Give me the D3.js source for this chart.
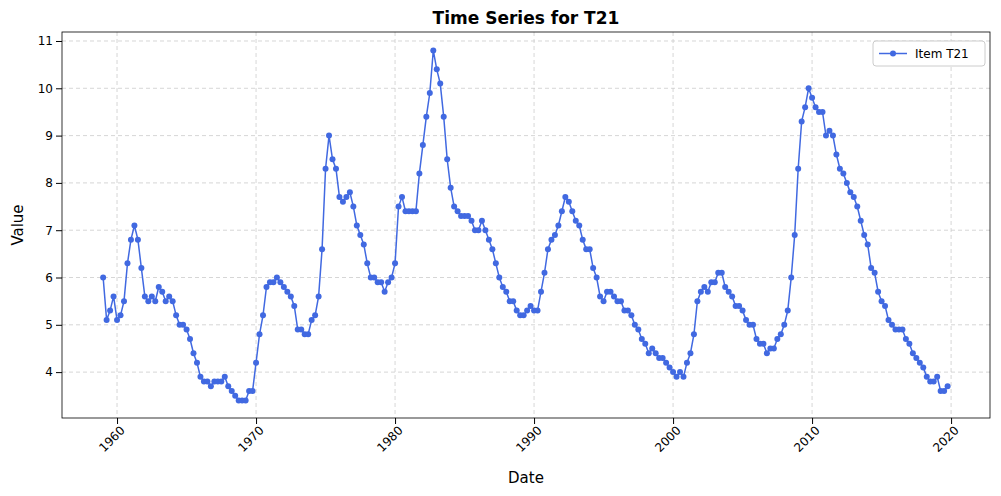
<!DOCTYPE html>
<html><head><meta charset="utf-8">
<script src="https://cdn.jsdelivr.net/npm/d3@7"></script>
<style>body{margin:0;background:#fff;font-family:"DejaVu Sans",sans-serif}</style>
</head><body><svg id="c" width="1001" height="496"></svg>
<script>
const startYear = 1959;
const values = [
6.0,5.1,5.3,5.6, 5.1,5.2,5.5,6.3, 6.8,7.1,6.8,6.2, 5.6,5.5,5.6,5.5, 5.8,5.7,5.5,5.6,
5.5,5.2,5.0,5.0, 4.9,4.7,4.4,4.2, 3.9,3.8,3.8,3.7, 3.8,3.8,3.8,3.9, 3.7,3.6,3.5,3.4,
3.4,3.4,3.6,3.6, 4.2,4.8,5.2,5.8, 5.9,5.9,6.0,5.9, 5.8,5.7,5.6,5.4, 4.9,4.9,4.8,4.8,
5.1,5.2,5.6,6.6, 8.3,9.0,8.5,8.3, 7.7,7.6,7.7,7.8, 7.5,7.1,6.9,6.7, 6.3,6.0,6.0,5.9,
5.9,5.7,5.9,6.0, 6.3,7.5,7.7,7.4, 7.4,7.4,7.4,8.2, 8.8,9.4,9.9,10.8, 10.4,10.1,9.4,8.5,
7.9,7.5,7.4,7.3, 7.3,7.3,7.2,7.0, 7.0,7.2,7.0,6.8, 6.6,6.3,6.0,5.8, 5.7,5.5,5.5,5.3,
5.2,5.2,5.3,5.4, 5.3,5.3,5.7,6.1, 6.6,6.8,6.9,7.1, 7.4,7.7,7.6,7.4, 7.2,7.1,6.8,6.6,
6.6,6.2,6.0,5.6, 5.5,5.7,5.7,5.6, 5.5,5.5,5.3,5.3, 5.2,5.0,4.9,4.7, 4.6,4.4,4.5,4.4,
4.3,4.3,4.2,4.1, 4.0,3.9,4.0,3.9, 4.2,4.4,4.8,5.5, 5.7,5.8,5.7,5.9, 5.9,6.1,6.1,5.8,
5.7,5.6,5.4,5.4, 5.3,5.1,5.0,5.0, 4.7,4.6,4.6,4.4, 4.5,4.5,4.7,4.8, 5.0,5.3,6.0,6.9,
8.3,9.3,9.6,10.0, 9.8,9.6,9.5,9.5, 9.0,9.1,9.0,8.6, 8.3,8.2,8.0,7.8, 7.7,7.5,7.2,6.9,
6.7,6.2,6.1,5.7, 5.5,5.4,5.1,5.0, 4.9,4.9,4.9,4.7, 4.6,4.4,4.3,4.2, 4.1,3.9,3.8,3.8,
3.9,3.6,3.6,3.7];
const xTicks = [1960,1970,1980,1990,2000,2010,2020];
const yTicks = [4,5,6,7,8,9,10,11];
const data = values.map((v,i)=>({t:startYear+i/4,v}));

const svg = d3.select("#c");
const L=62,R=990,T=32,B=418, col="#4169e1";
const x = d3.scaleLinear().domain([1956.04,2022.8]).range([L,R]);
const y = d3.scaleLinear().domain([3.03,11.19]).range([B,T]);

const g = svg.append("g");
g.selectAll(".gx").data(xTicks).join("line").attr("x1",d=>x(d)).attr("x2",d=>x(d)).attr("y1",T).attr("y2",B)
 .attr("stroke","#ccc").attr("stroke-dasharray","4,3").attr("stroke-width",0.8);
g.selectAll(".gy").data(yTicks).join("line").attr("y1",d=>y(d)).attr("y2",d=>y(d)).attr("x1",L).attr("x2",R)
 .attr("stroke","#ccc").attr("stroke-dasharray","4,3").attr("stroke-width",0.8);

const xa = svg.append("g").attr("transform",`translate(0,${B})`).call(d3.axisBottom(x).tickValues(xTicks).tickFormat(d3.format("d")).tickSizeOuter(0));
xa.selectAll("text").attr("transform","rotate(-45)").attr("text-anchor","end").attr("dx","-0.3em").attr("dy","0.5em");
const ya = svg.append("g").attr("transform",`translate(${L},0)`).call(d3.axisLeft(y).tickValues(yTicks).tickSizeOuter(0));
svg.selectAll(".tick text").attr("font-size",12).attr("font-family","DejaVu Sans").attr("fill","#000");
svg.selectAll(".domain").remove();
svg.append("rect").attr("x",L).attr("y",T).attr("width",R-L).attr("height",B-T).attr("fill","none").attr("stroke","#000").attr("stroke-width",0.8);

svg.append("path").datum(data).attr("fill","none").attr("stroke",col).attr("stroke-width",1.5)
 .attr("d",d3.line().x(d=>x(d.t)).y(d=>y(d.v)));
svg.selectAll(".pt").data(data).join("circle").attr("cx",d=>x(d.t)).attr("cy",d=>y(d.v)).attr("r",3).attr("fill",col);

svg.append("text").attr("x",(L+R)/2).attr("y",24).attr("text-anchor","middle").attr("font-weight","bold").attr("font-size",17).text("Time Series for T21");
svg.append("text").attr("x",(L+R)/2).attr("y",483).attr("text-anchor","middle").attr("font-size",15).text("Date");
svg.append("text").attr("transform",`translate(23,${(T+B)/2}) rotate(-90)`).attr("text-anchor","middle").attr("font-size",15).text("Value");

const lg = svg.append("g").attr("transform","translate(873,41)");
lg.append("rect").attr("width",112).attr("height",25).attr("rx",3).attr("fill","#fff").attr("stroke","#ccc");
lg.append("line").attr("x1",6).attr("x2",34).attr("y1",12.5).attr("y2",12.5).attr("stroke",col).attr("stroke-width",1.5);
lg.append("circle").attr("cx",20).attr("cy",12.5).attr("r",3).attr("fill",col);
lg.append("text").attr("x",42).attr("y",17).attr("font-size",12).text("Item T21");
</script></body></html>
